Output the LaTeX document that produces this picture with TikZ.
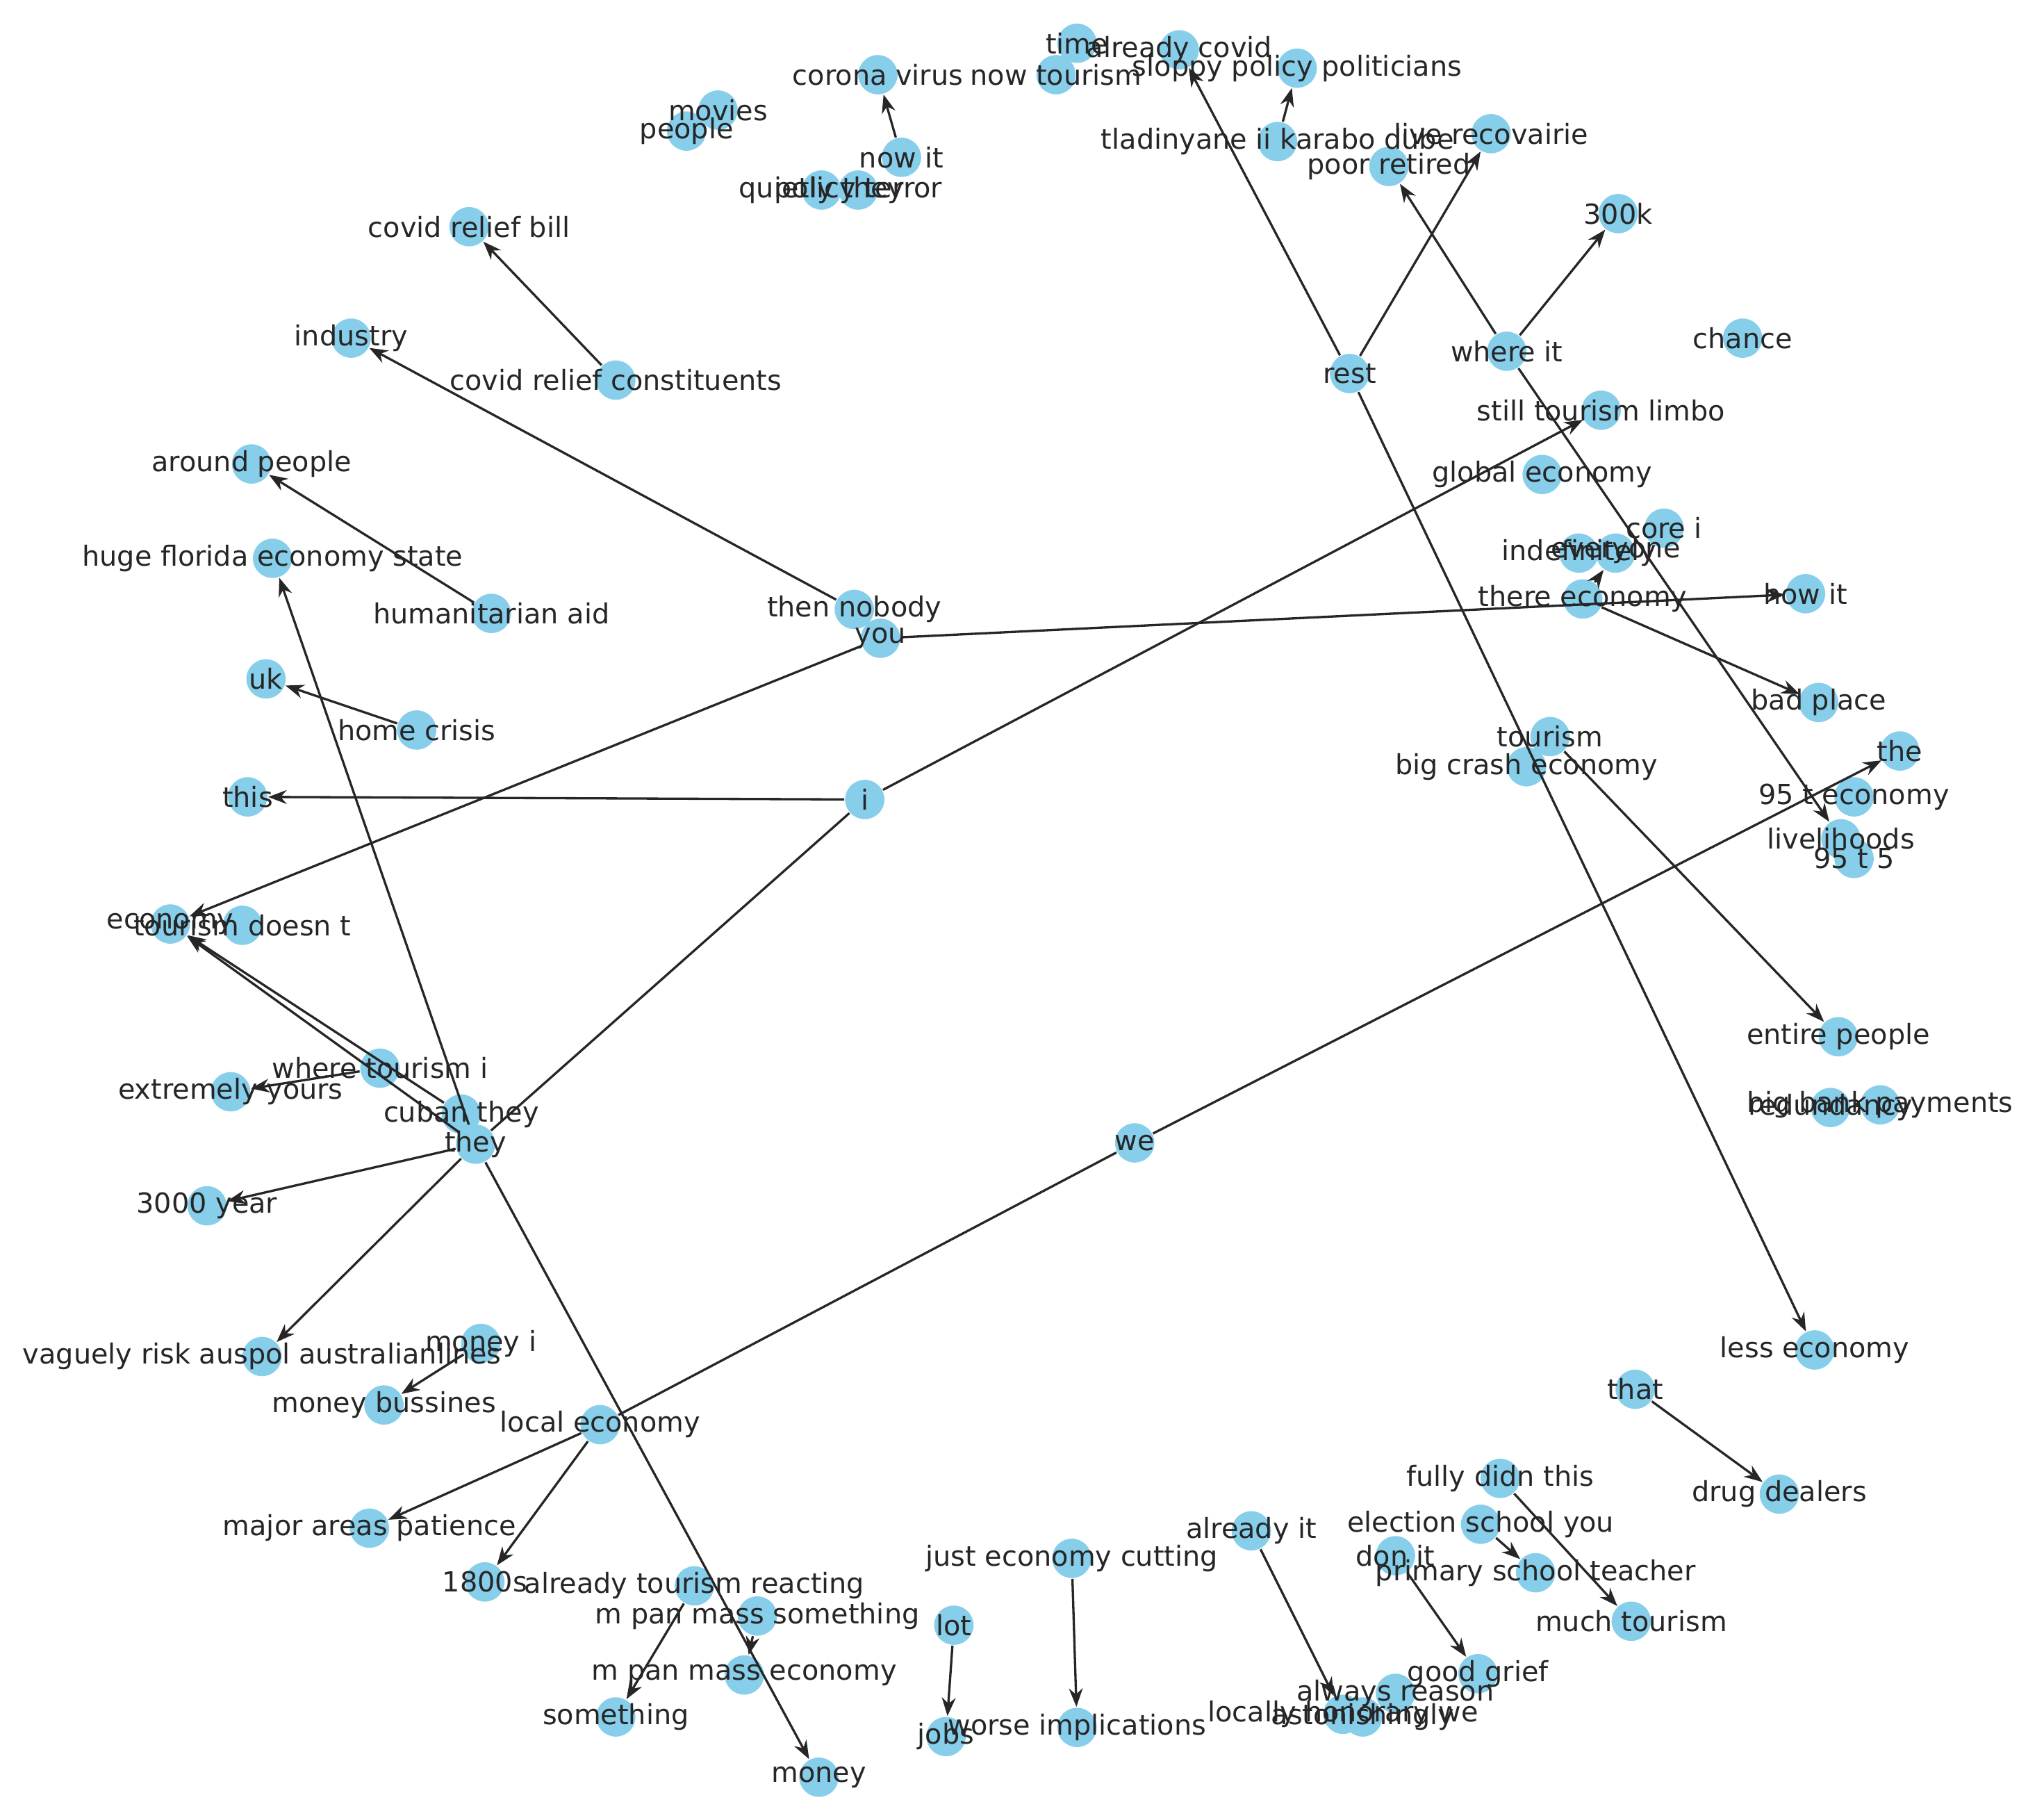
\documentclass[tikz,border=0pt]{standalone}
\usepackage{fontspec}
\setmainfont{DejaVu Sans}
\usetikzlibrary{arrows.meta}
\begin{document}
\begin{tikzpicture}[x=0.01cm,y=-0.01cm,
  lb/.style={font=\fontsize{6}{7}\selectfont,text=black!85},
  ed/.style={-{Stealth[length=4pt,width=3pt]},black!85,line width=0.5pt},
  pl/.style={black!85,line width=0.5pt}]
\definecolor{sky}{HTML}{87CEEB}
\tikzset{nd/.style={circle,fill=sky,minimum size=0.3cm,inner sep=0pt}}
\useasboundingbox (0,0) rectangle (1560,1387);
\foreach \n/\x/\y/\t in {
 time/822/33/time, alcov/900/38/already  covid, nowtour/806/57/now  tourism,
 sloppy/990/52/sloppy policy politicians, corona/670/57/corona virus,
 movies/548/84/movies, people/524/100/people, nowit/688/120/now  it,
 quietly/627/145/quietly they, policy/655/145/policy terror,
 tlad/975/108/tladinyane ii karabo dube, live/1138/102/live  recovairie,
 poor/1060/127/poor  retired, k300/1235/163/300k,
 crb/358/173/covid relief bill, crc/470/290/covid relief constituents,
 industry/268/258/industry, where/1150/268/where  it, rest/1030/285/rest,
 chance/1330/258/chance, stl/1222/313/still tourism limbo,
 around/192/354/around  people, global/1177/362/global  economy,
 core/1270/403/core  i, indef/1205/422/indefinitely, everyone/1233/422/everyone,
 huge/208/426/huge florida economy state, hum/375/468/humanitarian  aid,
 then/652/465/then  nobody, you/672/487/you, there/1208/457/there  economy,
 howit/1378/453/how  it, uk/203/518/uk, home/318/557/home crisis,
 bad/1388/536/bad  place, tourism/1183/562/tourism, bigcrash/1165/585/big crash economy,
 the/1450/573/the, this/189/608/this, i/660/610/i,
 t95/1415/608/95 t economy, liveli/1405/640/livelihoods, t955/1415/655/95 t 5,
 economy/130/705/economy, tdoesnt/185/706/tourism doesn t,
 wti/290/815/where tourism i, extr/176/833/extremely  yours,
 cuban/352/850/cuban  they, they/363/873/they, we/866/872/we,
 entire/1403/791/entire  people, redund/1397/845/redundancy, bigbank/1435/843/big bank payments,
 y3000/158/920/3000  year, vague/200/1035/vaguely risk auspol australianlines,
 moneyi/367/1025/money  i, less/1385/1030/less  economy, that/1248/1060/that,
 bussines/293/1072/money bussines, local/458/1087/local  economy,
 fully/1145/1128/fully didn this, drug/1358/1140/drug dealers,
 election/1130/1163/election school you, major/282/1166/major areas patience,
 alit/955/1168/already  it, donit/1065/1187/don it, just/818/1189/just economy cutting,
 primary/1172/1200/primary school teacher, s1800/370/1207/1800s,
 atr/530/1210/already tourism reacting, mpms/578/1233/m pan mass something,
 lot/728/1240/lot, much/1245/1237/much  tourism, mpme/568/1278/m pan mass economy,
 good/1128/1277/good grief, always/1065/1292/always  reason,
 locally/1025/1308/locally honorary we, aston/1040/1310/astonishingly,
 something/470/1310/something, worse/822/1318/worse  implications,
 jobs/722/1325/jobs, money/625/1356/money}
 {\node[nd] (\n) at (\x,\y) {};}
\foreach \n/\x/\y/\t in {
 time/822/33/time, alcov/900/38/already  covid, nowtour/806/57/now  tourism,
 sloppy/990/52/sloppy policy politicians, corona/670/57/corona virus,
 movies/548/84/movies, people/524/100/people, nowit/688/120/now  it,
 quietly/627/145/quietly they, policy/655/145/policy terror,
 tlad/975/108/tladinyane ii karabo dube, live/1138/102/live  recovairie,
 poor/1060/127/poor  retired, k300/1235/163/300k,
 crb/358/173/covid relief bill, crc/470/290/covid relief constituents,
 industry/268/258/industry, where/1150/268/where  it, rest/1030/285/rest,
 chance/1330/258/chance, stl/1222/313/still tourism limbo,
 around/192/354/around  people, global/1177/362/global  economy,
 core/1270/403/core  i, indef/1205/422/indefinitely, everyone/1233/422/everyone,
 huge/208/426/huge florida economy state, hum/375/468/humanitarian  aid,
 then/652/465/then  nobody, you/672/487/you, there/1208/457/there  economy,
 howit/1378/453/how  it, uk/203/518/uk, home/318/557/home crisis,
 bad/1388/536/bad  place, tourism/1183/562/tourism, bigcrash/1165/585/big crash economy,
 the/1450/573/the, this/189/608/this, i/660/610/i,
 t95/1415/608/95 t economy, liveli/1405/640/livelihoods, t955/1415/655/95 t 5,
 economy/130/705/economy, tdoesnt/185/706/tourism doesn t,
 wti/290/815/where tourism i, extr/176/833/extremely  yours,
 cuban/352/850/cuban  they, they/363/873/they, we/866/872/we,
 entire/1403/791/entire  people, redund/1397/845/redundancy, bigbank/1435/843/big bank payments,
 y3000/158/920/3000  year, vague/200/1035/vaguely risk auspol australianlines,
 moneyi/367/1025/money  i, less/1385/1030/less  economy, that/1248/1060/that,
 bussines/293/1072/money bussines, local/458/1087/local  economy,
 fully/1145/1128/fully didn this, drug/1358/1140/drug dealers,
 election/1130/1163/election school you, major/282/1166/major areas patience,
 alit/955/1168/already  it, donit/1065/1187/don it, just/818/1189/just economy cutting,
 primary/1172/1200/primary school teacher, s1800/370/1207/1800s,
 atr/530/1210/already tourism reacting, mpms/578/1233/m pan mass something,
 lot/728/1240/lot, much/1245/1237/much  tourism, mpme/568/1278/m pan mass economy,
 good/1128/1277/good grief, always/1065/1292/always  reason,
 locally/1025/1308/locally honorary we, aston/1040/1310/astonishingly,
 something/470/1310/something, worse/822/1318/worse  implications,
 jobs/722/1325/jobs, money/625/1356/money}
 {\node[lb] (l\n) at (\x,\y) {\t};}
\foreach \a/\b in {tlad/sloppy, nowit/corona, crc/crb, then/industry, hum/around,
 they/huge, home/uk, i/this, i/stl, you/howit, you/economy, cuban/economy, they/economy,
 wti/extr, they/y3000, they/vague, moneyi/bussines, local/major, local/s1800,
 we/the, rest/live, rest/alcov, rest/less, where/poor, where/k300, where/liveli,
 there/everyone, there/bad, tourism/entire, that/drug, fully/much, election/primary,
 donit/good, alit/locally, just/worse, lot/jobs, atr/something, mpms/mpme, they/money}
 {\draw[ed] (\a) -- (\b);}
\draw[pl] (we) -- (local);
\draw[pl] (i) -- (they);
\end{tikzpicture}
\end{document}
